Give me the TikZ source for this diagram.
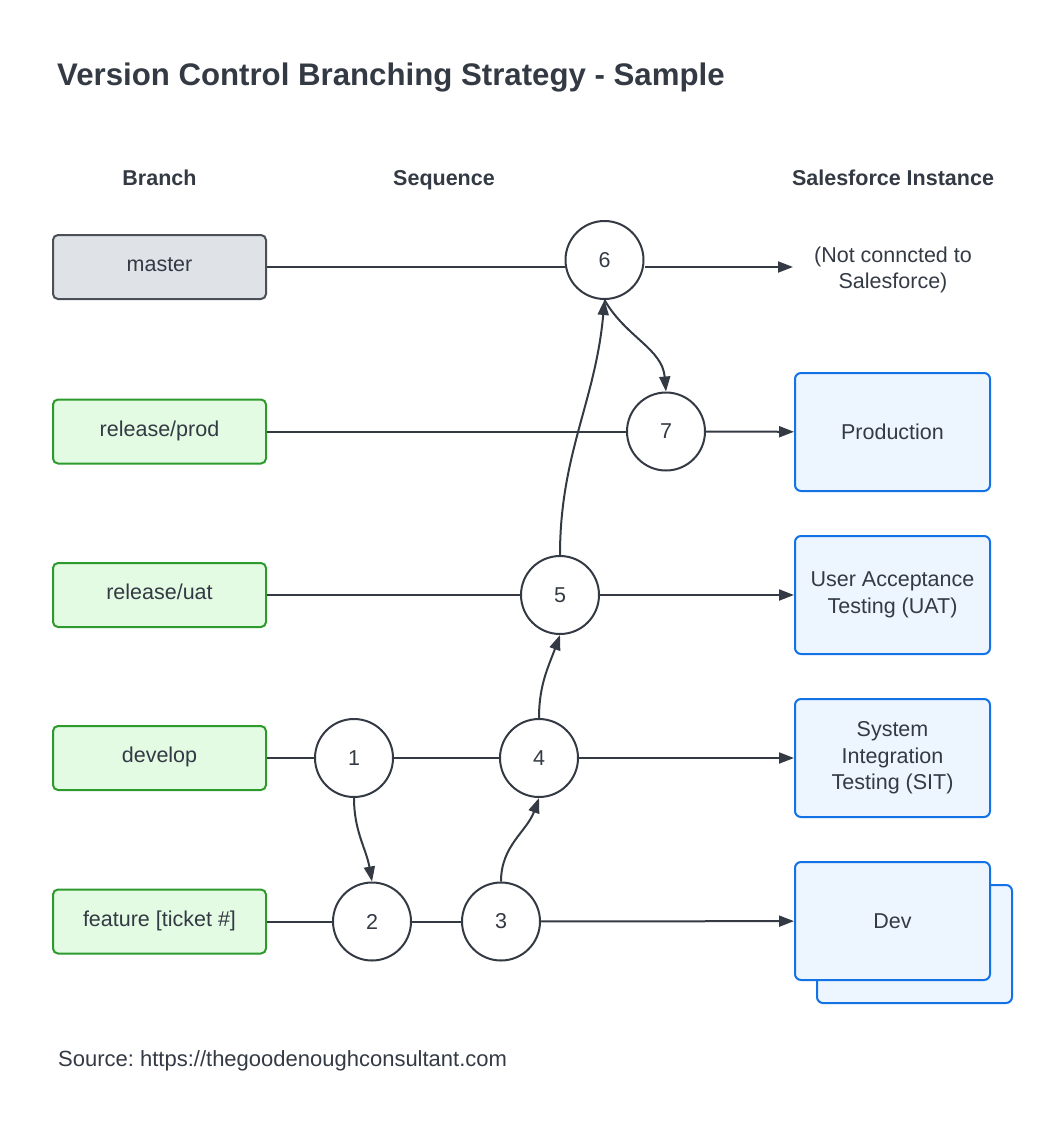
\documentclass[tikz,border=0pt]{standalone}
\usepackage{fontspec}
\setmainfont{Liberation Sans}
\usetikzlibrary{arrows.meta, positioning}
\definecolor{inkgray}{RGB}{52,58,68}
\definecolor{boxgray}{RGB}{75,80,88}
\definecolor{fillgray}{RGB}{223,227,232}
\definecolor{boxgreen}{RGB}{44,154,44}
\definecolor{fillgreen}{RGB}{227,250,227}
\definecolor{boxblue}{RGB}{18,114,230}
\definecolor{fillblue}{RGB}{237,245,255}
\frenchspacing
\tikzset{
    % Headings
    hdr/.style={font=\bfseries\fontsize{21.5}{26}\selectfont, text=inkgray,
                text height=16pt, text depth=5pt},
    % Branch column
    brnode/.style={rectangle, rounded corners=5pt, draw=boxgreen, fill=fillgreen,
                line width=2pt, minimum width=213pt, minimum height=64pt, align=center,
                text height=15.5pt, text depth=6.5pt,
                font=\fontsize{21.5}{26}\selectfont, text=inkgray},
    % Sequence circles
    seqnode/.style={circle, draw=inkgray, fill=white, line width=2pt,
                minimum size=78pt, inner sep=0pt,
                font=\fontsize{21.5}{26}\selectfont, text=inkgray},
    seqline/.style={line width=2pt, inkgray},
    seqarrow/.style={seqline, -{Triangle[length=15pt, width=11pt]}},
    % Salesforce instances
    sfnode/.style={rectangle, rounded corners=6pt, draw=boxblue, fill=fillblue,
                line width=2pt, minimum width=195pt, minimum height=118pt, align=center,
                font=\fontsize{21.5}{26.5}\selectfont, text=inkgray},
    sfnote/.style={align=center, font=\fontsize{21.5}{26}\selectfont, text=inkgray},
}
\begin{document}
\begin{tikzpicture}[x=1pt, y=-1pt]
\useasboundingbox (0,0) rectangle (1054,1121);

\node[anchor=west, inner sep=0pt, font=\bfseries\fontsize{31.2}{36}\selectfont, text=inkgray]
    (title) at (57,78) {Version Control Branching Strategy - Sample};

\node[hdr] (hbr)  at (159.5,180) {Branch};
\node[hdr] (hseq) at (444,180)   {Sequence};
\node[hdr] (hsf)  at (893,180)   {Salesforce Instance};

% Branches
\node[brnode, draw=boxgray, fill=fillgray] (master) at (159.5,267) {master};
\node[brnode] (rprod)   at (159.5,431.5) {release/prod};
\node[brnode] (ruat)    at (159.5,595)   {release/uat};
\node[brnode] (develop) at (159.5,758)   {develop};
\node[brnode] (feature) at (159.5,921.5) {feature [ticket \#]};

% Sequence
\node[seqnode] (c1) at (354,758)   {1};
\node[seqnode] (c2) at (372,921.5) {2};
\node[seqnode] (c3) at (501,921.5) {3};
\node[seqnode] (c4) at (539,758)   {4};
\node[seqnode] (c5) at (560,595)   {5};
\node[seqnode] (c6) at (604.5,260) {6};
\node[seqnode] (c7) at (666,431.5) {7};

% Instances
\node[sfnote] (note) at (893,270) {(Not conncted to\\Salesforce)};
\coordinate (noteend) at (793,267);
\node[sfnode] (prod) at (892.5,432) {Production};
\node[sfnode] (uat)  at (892.5,595) {User Acceptance\\Testing (UAT)};
\node[sfnode] (sit)  at (892.5,758) {System\\Integration\\Testing (SIT)};
\node[sfnode] (devb) at (914.5,944) {};
\node[sfnode] (dev)  at (892.5,921) {Dev};

% Branch lines
\draw[seqline]  (master.east) -- (master.east -| c6.west);
\draw[seqarrow] (master.east -| c6.east) -- (noteend);
\draw[seqline]  (rprod) -- (c7);
\draw[seqarrow] (c7) -- (prod);
\draw[seqline]  (ruat) -- (c5);
\draw[seqarrow] (c5) -- (uat);
\draw[seqline]  (develop) -- (c1);
\draw[seqline]  (c1) -- (c4);
\draw[seqarrow] (c4) -- (sit);
\draw[seqline]  (feature) -- (c2);
\draw[seqline]  (c2) -- (c3);
\draw[seqarrow] (c3) -- (dev);

% Merges
\draw[seqarrow] (c1.south) to[out=-90, in=100] (c2.north);
\draw[seqarrow] (c3.north) to[out=90, in=-110] (c4.south);
\draw[seqarrow] (c4.north) to[out=90, in=-110] (c5.south);
\draw[seqarrow] (c5.north) to[out=90, in=-95] (c6.south);
\draw[seqarrow] (c6.south) to[out=-60, in=95] (c7.north);

\node[anchor=west, inner sep=0pt, font=\fontsize{22}{26}\selectfont, text=inkgray]
    (source) at (58,1061) {Source: https://thegoodenoughconsultant.com};
\end{tikzpicture}
\end{document}
